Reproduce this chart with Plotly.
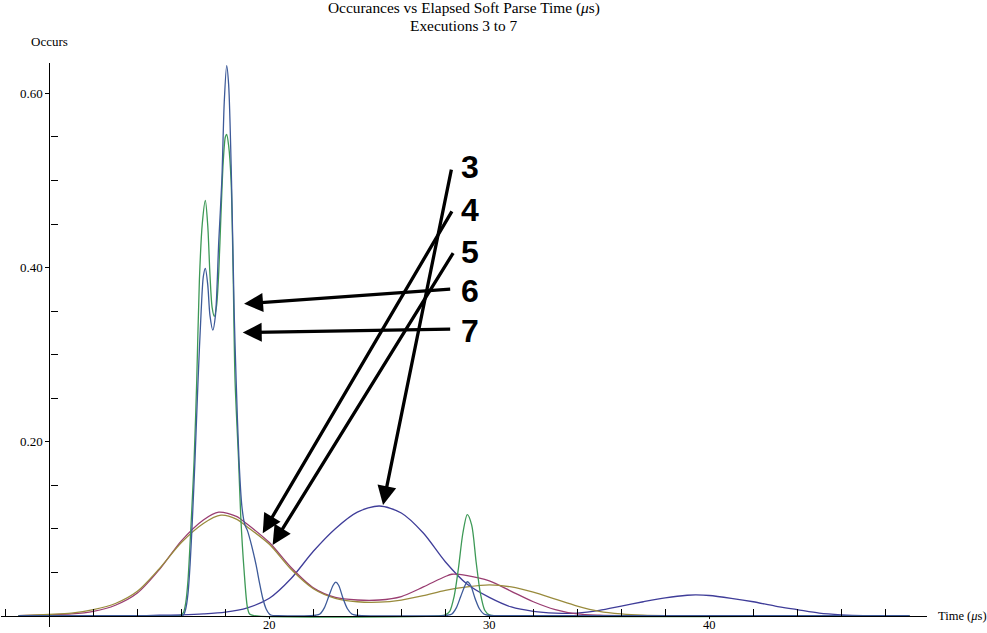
import plotly.graph_objects as go

# ---------------- data ----------------
series_names = ["3", "4", "5", "6", "7"]
series_colors = ["#3F3D99", "#993D71", "#998B3D", "#3D9956", "#3D5A99"]

# Execution 3 (indigo)
x3 = [8.6, 12, 14, 15, 16, 17, 18, 19, 20, 21, 22, 23, 24, 25, 26, 27, 28, 29, 30, 31,
      32, 33, 34, 35, 36, 37, 38, 39, 39.4, 40, 41, 42, 43, 44, 45, 46, 47, 49.1]
y3 = [0, 0, 0, 0.0005, 0.001, 0.002, 0.004, 0.009, 0.020, 0.043, 0.074, 0.100, 0.119, 0.126,
      0.118, 0.095, 0.062, 0.036, 0.021, 0.010, 0.005, 0.003, 0.003, 0.006, 0.011, 0.016,
      0.0205, 0.0235, 0.0238, 0.0232, 0.020, 0.016, 0.011, 0.007, 0.003, 0.001, 0, 0]

# Execution 4 (magenta)
x4 = [8.6, 10, 11, 12, 13, 14, 15, 16, 17, 17.7, 18.5, 19, 20, 21, 22, 23, 24, 25, 26, 27,
      28, 28.3, 29, 30, 31, 32, 33, 34, 35, 36, 49.1]
y4 = [0, 0.001, 0.002, 0.005, 0.012, 0.026, 0.053, 0.086, 0.110, 0.119, 0.114, 0.105, 0.084,
      0.055, 0.032, 0.021, 0.018, 0.018, 0.022, 0.033, 0.045, 0.0476, 0.046, 0.040, 0.028,
      0.016, 0.007, 0.002, 0.0005, 0, 0]

# Execution 5 (olive)
x5 = [8.6, 10, 11, 12, 13, 14, 15, 16, 17, 17.8, 18.5, 19, 20, 21, 22, 23, 24, 25, 26, 27,
      28, 29, 30, 31, 32, 33, 34, 35, 36, 37, 38, 49.1]
y5 = [0, 0.0015, 0.003, 0.007, 0.014, 0.028, 0.054, 0.084, 0.106, 0.1155, 0.111, 0.102, 0.082,
      0.053, 0.031, 0.020, 0.016, 0.0155, 0.018, 0.023, 0.029, 0.033, 0.0353, 0.033, 0.027,
      0.019, 0.011, 0.005, 0.002, 0.0005, 0, 0]

# Execution 6 (green)
x6 = [8.6, 15.5, 15.9, 16.0, 16.1, 16.2, 16.3, 16.4, 16.5, 16.58, 16.7, 16.82, 16.95, 17.09,
      17.2, 17.3, 17.4, 17.5, 17.6, 17.7, 17.8, 17.9, 18.0, 18.06, 18.15, 18.26, 18.35, 18.44,
      18.6, 18.7, 18.85, 19.0, 19.1, 19.3, 27.8, 28.0, 28.2, 28.4, 28.6, 28.8, 29.0, 29.2,
      29.4, 29.6, 29.8, 30.0, 30.3, 49.1]
y6 = [0, 0, 0, 0.001, 0.004, 0.015, 0.040, 0.085, 0.135, 0.179, 0.271, 0.386, 0.450, 0.477,
      0.448, 0.392, 0.354, 0.344, 0.356, 0.395, 0.460, 0.520, 0.550, 0.553, 0.540, 0.500,
      0.400, 0.271, 0.179, 0.114, 0.0525, 0.010, 0.002, 0, 0, 0.001, 0.005, 0.022, 0.055,
      0.095, 0.116, 0.104, 0.062, 0.025, 0.006, 0.001, 0, 0]

# Execution 7 (blue)
x7 = [8.6, 15.6, 16.0, 16.1, 16.2, 16.3, 16.4, 16.5, 16.62, 16.76, 16.9, 17.0, 17.09, 17.2,
      17.3, 17.43, 17.55, 17.7, 17.84, 17.95, 18.06, 18.15, 18.28, 18.4, 18.49, 18.62, 18.75,
      18.88, 19.0, 19.2, 19.4, 19.55, 19.7, 19.85, 20.0, 20.1, 20.4,
      21.9, 22.1, 22.3, 22.5, 22.7, 22.9, 23.02, 23.15, 23.35, 23.55, 23.75, 23.95, 24.2,
      27.9, 28.1, 28.3, 28.5, 28.7, 28.9, 29.0, 29.15, 29.35, 29.55, 29.75, 29.95, 30.2, 49.1]
y7 = [0, 0, 0, 0.001, 0.008, 0.025, 0.060, 0.110, 0.179, 0.271, 0.350, 0.390, 0.399, 0.380,
      0.345, 0.328, 0.345, 0.430, 0.500, 0.590, 0.632, 0.610, 0.500, 0.350, 0.271, 0.179, 0.126,
      0.105, 0.098, 0.080, 0.058, 0.038, 0.020, 0.008, 0.002, 0.0005, 0,
      0, 0.0005, 0.002, 0.009, 0.022, 0.035, 0.0385, 0.035, 0.020, 0.008, 0.002, 0.0005, 0,
      0, 0.0005, 0.002, 0.009, 0.022, 0.035, 0.039, 0.035, 0.020, 0.008, 0.002, 0.0005, 0, 0]

xs = [x3, x4, x5, x6, x7]
ys = [y3, y4, y5, y6, y7]

# arrows: label position and arrow tip (data coordinates)
label_x = [29.1, 29.1, 29.1, 29.1, 29.1]
label_y = [0.516, 0.4663, 0.4184, 0.3727, 0.3267]
tail_x = [28.29, 28.34, 28.40, 28.29, 28.29]
tail_y = [0.5143, 0.4663, 0.4184, 0.3752, 0.3292]
tip_x = [25.17, 19.70, 20.15, 18.85, 18.79]
tip_y = [0.1272, 0.0947, 0.0813, 0.3583, 0.3253]

# axes
x_range = [7.8, 49.9]
y_range = [-0.013, 0.635]
x_major = [20, 30, 40]
x_major_text = ["20", "30", "40"]
x_minor = [8, 12, 14, 16, 18, 22, 24, 26, 28, 32, 34, 36, 38, 42, 44, 46, 48]
y_major = [0.20, 0.40, 0.60]
y_major_text = ["0.20", "0.40", "0.60"]
y_minor = [0.05, 0.10, 0.15, 0.25, 0.30, 0.35, 0.45, 0.50, 0.55]

title_1 = "Occurances vs Elapsed Soft Parse Time (<i>μ</i>s)"
title_2 = "Executions 3 to 7"
x_title = "Time (<i>μ</i>s)"
y_title = "Occurs"

# ---------------- figure ----------------
fig = go.Figure()
for name, color, x, y in zip(series_names, series_colors, xs, ys):
    fig.add_trace(go.Scatter(
        x=x, y=y, mode="lines", name=name,
        line=dict(color=color, width=1.3, shape="spline", smoothing=0.8),
        showlegend=False, hoverinfo="skip",
    ))

serif = "Liberation Serif, Times New Roman, serif"
W, H = 987, 633
ml, mr, mt, mb = 1, 60, 63, 6

x_pos = (10 - x_range[0]) / (x_range[1] - x_range[0])
y_pos = (0 - y_range[0]) / (y_range[1] - y_range[0])

fig.update_layout(
    width=W, height=H, template="none",
    margin=dict(l=ml, r=mr, t=mt, b=mb, pad=0),
    paper_bgcolor="white", plot_bgcolor="white",
    font=dict(family=serif, size=13, color="black"),
    xaxis=dict(
        range=x_range, anchor="free", position=y_pos, showgrid=False, zeroline=False,
        showline=True, linecolor="black", linewidth=1.3, automargin=False,
        tickmode="array", tickvals=x_major, showticklabels=False,
        ticks="outside", ticklen=2, tickcolor="black", tickwidth=1.1,
        minor=dict(tickmode="array", tickvals=x_minor, ticks="inside", ticklen=7,
                   tickcolor="black", tickwidth=1.1, showgrid=False),
    ),
    yaxis=dict(
        range=y_range, anchor="free", position=x_pos, showgrid=False, zeroline=False,
        showline=True, linecolor="black", linewidth=1.3, automargin=False,
        tickmode="array", tickvals=y_major, ticktext=y_major_text,
        ticks="outside", ticklen=4, tickcolor="black", tickwidth=1.1,
        tickfont=dict(family=serif, size=13, color="black"),
        minor=dict(tickmode="array", tickvals=y_minor, ticks="inside", ticklen=7,
                   tickcolor="black", tickwidth=1.1, showgrid=False),
    ),
)

ann = []
# title
ann.append(dict(text=title_1, xref="paper", yref="paper", x=0.5, y=(H - mb - 8) / (H - mt - mb),
                xanchor="center", yanchor="middle", showarrow=False,
                font=dict(family=serif, size=15.4, color="black")))
ann.append(dict(text=title_2, xref="paper", yref="paper", x=0.5, y=(H - mb - 25) / (H - mt - mb),
                xanchor="center", yanchor="middle", showarrow=False,
                font=dict(family=serif, size=15.4, color="black")))
# x tick labels
for v, t in zip(x_major, x_major_text):
    ann.append(dict(text=t, xref="x", yref="y", x=v, y=0, yshift=-9,
                    xanchor="center", yanchor="middle", showarrow=False,
                    font=dict(family=serif, size=12.5, color="black")))
# axis titles
ann.append(dict(text=y_title, xref="x", yref="paper", x=10, y=(H - mb - 41) / (H - mt - mb),
                xanchor="center", yanchor="middle", showarrow=False,
                font=dict(family=serif, size=13, color="black")))
ann.append(dict(text=x_title, xref="paper", yref="y", x=1.0, y=0, xshift=9,
                xanchor="left", yanchor="middle", showarrow=False,
                font=dict(family=serif, size=12.5, color="black")))
# arrows and labels
for name, lx, ly, tx, ty, px, py in zip(series_names, label_x, label_y, tail_x, tail_y, tip_x, tip_y):
    ann.append(dict(text="", x=px, y=py, xref="x", yref="y", ax=tx, ay=ty, axref="x", ayref="y",
                    showarrow=True, arrowhead=2, arrowsize=1.15, arrowwidth=3.3,
                    arrowcolor="black", standoff=0, startstandoff=0))
    ann.append(dict(text="<b>" + name + "</b>", x=lx, y=ly, xref="x", yref="y",
                    xanchor="center", yanchor="middle", showarrow=False,
                    font=dict(family="Liberation Sans, Arial, sans-serif", size=32, color="black")))
fig.update_layout(annotations=ann)

fig.write_html(
    "out.html",
    config={"displayModeBar": False},
    post_script="document.body.style.margin='0';document.body.style.padding='0';"
                "document.body.style.overflow='hidden';",
)
